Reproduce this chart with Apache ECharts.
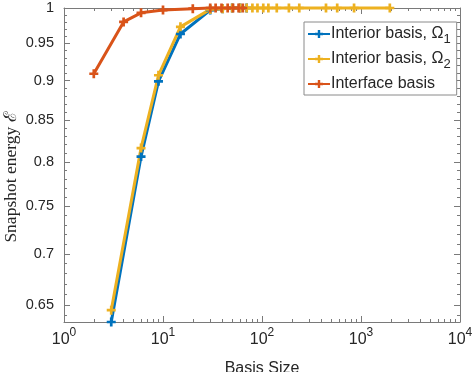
<!DOCTYPE html>
<html><head><meta charset="utf-8">
<script src="https://cdn.jsdelivr.net/npm/echarts@6/dist/echarts.min.js"></script>
<style>html,body{margin:0;padding:0;background:#fff}#c{width:474px;height:372px}</style>
</head><body><div id="c"></div>
<script>
// ---- data ----
const interior1X = [3, 6, 9, 15, 30, 40, 50, 60, 70];
const interior1Y = [0.634, 0.806, 0.899, 0.963, 0.997, 0.999, 1.0, 1.0, 1.0];
const interior2X = [3, 6, 9, 15, 30, 40, 50, 60, 70, 80, 90, 103, 116, 141, 187, 238, 443, 575, 851, 1955];
const interior2Y = [0.645, 0.816, 0.907, 0.973, 0.998, 0.999, 1.0, 1.0, 1.0, 1.0, 1.0, 1.0, 1.0, 1.0, 1.0, 1.0, 1.0, 1.0, 1.0, 1.0];
const interfaceX = [2, 4, 6, 10, 20, 30, 34, 39, 45, 51, 58, 64];
const interfaceY = [0.909, 0.980, 0.993, 0.997, 0.999, 1.0, 1.0, 1.0, 1.0, 1.0, 1.0, 1.0];
const seriesNames = ['Interior basis, \u03a91', 'Interior basis, \u03a92', 'Interface basis'];
const xTicks = [1, 10, 100, 1000, 10000];
const xMinorTicks = [2,3,4,5,6,7,8,9,20,30,40,50,60,70,80,90,200,300,400,500,600,700,800,900,2000,3000,4000,5000,6000,7000,8000,9000];
const yTicks = [0.65, 0.7, 0.75, 0.8, 0.85, 0.9, 0.95, 1];
const yMinorTicks = [0.64,0.66,0.67,0.68,0.69,0.71,0.72,0.73,0.74,0.76,0.77,0.78,0.79,0.81,0.82,0.83,0.84,0.86,0.87,0.88,0.89,0.91,0.92,0.93,0.94,0.96,0.97,0.98,0.99];
const xMin = 1, xMax = 10000, yMin = 0.634, yMax = 1;

const zip = (xs, ys) => xs.map((x, i) => [x, ys[i]]);
const AX = '#7a7a7a', TXT = '#262626';
const FONT = 'Liberation Sans';
const plus = 'path://M3.5,0 H6.5 V3.5 H10 V6.5 H6.5 V10 H3.5 V6.5 H0 V3.5 H3.5 Z';

function xAx(pos, values, len, labels, line) {
  return {
    type: 'log', logBase: 10, min: xMin, max: xMax, position: pos, gridIndex: 0,
    axisLine: { show: line, lineStyle: { color: AX, width: 1 } },
    axisTick: { show: true, inside: true, length: len, customValues: values, lineStyle: { color: AX, width: 1 } },
    axisLabel: labels ? {
      show: true, customValues: values, margin: 3, color: TXT, fontFamily: FONT, fontSize: 16,
      formatter: v => '{b|10}{s|' + Math.round(Math.log10(v)) + '}',
      rich: { b: { fontSize: 16, fontFamily: FONT, color: TXT, padding: [7, 0, 0, 0] },
              s: { fontSize: 12, fontFamily: FONT, color: TXT, padding: [0, 0, 8, 0] } }
    } : { show: false },
    splitLine: { show: false }, minorTick: { show: false },
    name: labels ? 'Basis Size' : '', nameLocation: 'middle', nameGap: 39, nameMoveOverlap: false,
    nameTextStyle: { fontFamily: FONT, fontSize: 16, color: TXT }
  };
}
function yAx(pos, values, len, labels, line) {
  return {
    type: 'log', logBase: 10, min: yMin, max: yMax, position: pos, gridIndex: 0,
    axisLine: { show: line, lineStyle: { color: AX, width: 1 } },
    axisTick: { show: true, inside: true, length: len, customValues: values, lineStyle: { color: AX, width: 1 } },
    axisLabel: labels ? {
      show: true, customValues: values, margin: 10, color: TXT, fontFamily: FONT, fontSize: 14.5,
      formatter: v => String(+(+v).toFixed(2))
    } : { show: false },
    splitLine: { show: false }, minorTick: { show: false },
    name: labels ? 'Snapshot energy \u2130' : '', nameLocation: 'middle', nameGap: 44, nameMoveOverlap: false,
    nameTextStyle: { fontFamily: 'Liberation Serif', fontSize: 17.5, color: TXT, padding: [0, 24, 0, 0] }
  };
}

const colors = ['#0072BD', '#EDB120', '#D95319'];
const datasets = [zip(interior1X, interior1Y), zip(interior2X, interior2Y), zip(interfaceX, interfaceY)];

const option = {
  backgroundColor: '#fff',
  animation: false,
  grid: { left: 64, right: 14, top: 8, bottom: 50, containLabel: false, outerBoundsMode: 'none' },
  xAxis: [
    xAx('bottom', xTicks, 6, true, true),
    xAx('bottom', xMinorTicks, 3, false, false),
    xAx('top', xTicks, 6, false, true),
    xAx('top', xMinorTicks, 3, false, false)
  ],
  yAxis: [
    yAx('left', yTicks, 6, true, true),
    yAx('left', yMinorTicks, 3, false, false),
    yAx('right', yTicks, 6, false, true),
    yAx('right', yMinorTicks, 3, false, false)
  ],
  legend: {
    orient: 'vertical', left: 304, top: 22,
    backgroundColor: '#fff', borderColor: '#8a8a8a', borderWidth: 1, borderRadius: 0,
    padding: [4, 6, 3, 3], itemGap: 5, itemWidth: 22, itemHeight: 10,
    data: seriesNames,
    formatter: n => {
      const m = n.match(/^(.*\u03a9)(\d)$/);
      return m ? '{t|' + m[1] + '}{sub|' + m[2] + '}' : '{t|' + n + '}';
    },
    textStyle: {
      fontFamily: FONT, fontSize: 16, color: TXT, padding: [0, 0, 0, -4],
      rich: { t: { fontFamily: FONT, fontSize: 16, color: TXT },
              sub: { fontFamily: FONT, fontSize: 13, color: TXT, padding: [11, 0, 0, 0] } }
    }
  },
  series: seriesNames.map((n, i) => ({
    name: n, type: 'line', xAxisIndex: 0, yAxisIndex: 0,
    data: datasets[i], clip: false,
    symbol: plus, symbolSize: 9, showSymbol: true,
    lineStyle: { color: colors[i], width: 3 },
    itemStyle: { color: colors[i] }
  }))
};
const chart = echarts.init(document.getElementById('c'), null, { renderer: 'canvas' });
chart.setOption(option);
</script></body></html>
